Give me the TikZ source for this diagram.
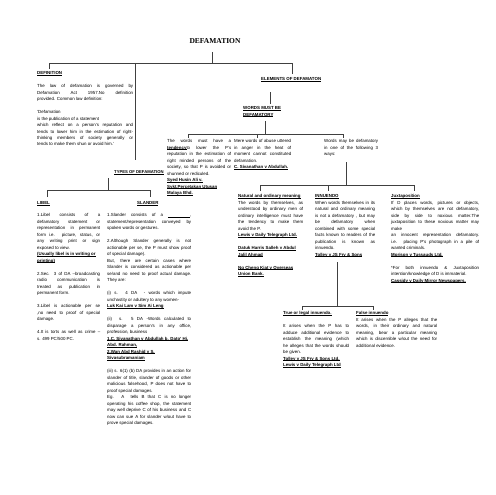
\documentclass[tikz,border=0pt]{standalone}
\usepackage{fontspec}
\setmainfont{Liberation Sans}
\newfontfamily\titlefont{Liberation Serif}
\newcommand\Jl[1]{\hbox to\hsize{\vrule height3.4pt depth0pt width0pt #1}}
\newcommand\Pl[1]{\hbox{\vrule height3.4pt depth0pt width0pt #1}}
\newcommand\Bl{\vskip6.5pt}
\newcommand\UL[1]{\setbox0\hbox{#1}\rlap{\rule[-0.8pt]{\wd0}{0.35pt}}\box0}
\newcommand\BU[1]{\UL{\textbf{#1}}}
\newcommand\blk[2]{\vtop{\hsize=#1\relax\fontsize{4.4}{6.5}\selectfont #2}}
\tikzset{
  tb/.style={anchor=north west, inner sep=0pt},
  hd/.style={anchor=base west, inner sep=0pt, font=\fontsize{4.4}{6.5}\selectfont},
  conn/.style={draw=black!75, line width=0.6pt}
}
\begin{document}
\begin{tikzpicture}[x=1pt,y=-1pt]
\fill[white] (0,0) rectangle (495,495);
\useasboundingbox (0,0) rectangle (495,495);

\node[anchor=base, inner sep=0pt, font=\titlefont\bfseries\fontsize{7.5}{9}\selectfont] (title) at (215,43.5) {DEFAMATION};

\node[hd] (defh) at (37,74.5) {\BU{DEFINITION}};
\node[tb] (deft) at (37,83.9) {\blk{96pt}{%
\Jl{The law of defamation is governed by}
\Jl{Defamation Act 1957.No definition}
\Pl{provided. Common law definition:}
\Bl
\Pl{`Defamation}
\Pl{is the publication of a statement}
\Jl{which reflect on a person's reputation and}
\Jl{tends to lower him in the estimation of right-}
\Jl{thinking members of society generally or}
\Pl{tends to make them shun or avoid him.'}}};

\node[hd] (elh) at (261,80.5) {\BU{ELEMENTS OF DEFAMATON}};
\node[tb] (wmh) at (243,105.9) {\blk{50pt}{%
\Pl{\BU{WORDS MUST BE}}
\Pl{\BU{DEFAMATORY}}}};

\node[tb] (blA) at (167,138.9) {\blk{64pt}{%
\Jl{The words must have a}
\Jl{\BU{tendency} to lower the P's}
\Jl{reputation in the estimation of}
\Jl{right minded persons of the}
\Jl{society, so that P is avoided or}
\Pl{shunned or rediculed.}
\Pl{\BU{Syed Husin Ali v.}}
\Pl{\BU{Sykt.Percetakan Utusan}}
\Pl{\BU{Malaya Bhd.}}}};

\node[tb] (blB) at (234,138.9) {\blk{57pt}{%
\Jl{Mere words of abuse uttered}
\Jl{in anger in the heat of}
\Jl{moment cannot constituted}
\Pl{defamation.}
\Pl{\BU{C. Sivanathan v Abdullah.}}}};

\node[tb] (blC) at (324,138.9) {\blk{54pt}{%
\Jl{Words may be defamatory}
\Jl{in one of the following 3}
\Pl{ways:}}};

\node[hd, font=\fontsize{4.2}{6.5}\selectfont] (tyh) at (114,173.5) {\BU{TYPES OF DEFAMATION}};
\node[hd] (lbh) at (37,204.5) {\BU{LIBEL}};
\node[hd] (slh) at (137,204.5) {\BU{SLANDER}};

\node[tb] (lbt) at (37,212.9) {\blk{63pt}{%
\Jl{1.Libel consists of a}
\Jl{defamatory statement or}
\Jl{representation in permanent}
\Jl{form i.e. picture, status, or}
\Jl{any writing print or sign}
\Pl{exposed to view.}
\Pl{\BU{(Usually libel is in writing or}}
\Pl{\BU{printing)}}
\Bl
\Jl{2.Sec. 3 of DA --broadcasting}
\Jl{radio communication is}
\Jl{treated as publication in}
\Pl{permanent form.}
\Bl
\Jl{3.Libel is actionable per se}
\Jl{,no need to proof of special}
\Pl{damage.}
\Bl
\Jl{4.It is torts as well as crime --}
\Pl{s. 499 PC/500 PC.}}};

\node[tb] (slt) at (107,212.9) {\blk{84pt}{%
\Jl{1.Slander consists of a \UL{\phantom{defamatory}},}
\Jl{statement/representation conveyed by}
\Pl{spoken words or gestures.}
\Bl
\Jl{2.Although Slander generally is not}
\Jl{actionable per se, the P must show proof}
\Pl{of special damage).}
\Jl{But, there are certain cases where}
\Jl{Slander is considered as actionable per}
\Jl{se/and no need to proof actual damage.}
\Pl{They are:}
\Bl
\Jl{(i) s. 4 DA \ - words which impute}
\Pl{unchastity or adultery to any women-}
\Pl{\BU{Luk Kai Lam v Sim Ai Leng}}
\Bl
\Jl{(ii) \ s. 5 DA -Words calculated to}
\Jl{disparage a person's in any office,}
\Pl{profession, business}
\Pl{\BU{1.C. Sivanathan v Abdullah b. Dato' Hj.}}
\Pl{\BU{Abd. Rahman,}}
\Pl{\BU{2.Wan Abd Rashid v S.}}
\Pl{\BU{Sivasubramaniam}}
\Bl
\Jl{(iii) s. 6(1) (b) DA provides in an action for}
\Jl{slander of title, slander of goods or other}
\Jl{malicious falsehood, P does not have to}
\Pl{proof special damages.}
\Jl{Eg. A \ tells B that C is no longer}
\Jl{operating his coffee shop, the statement}
\Jl{may well deprive C of his business and C}
\Jl{now can sue A for slander w/out have to}
\Pl{prove special damages.}}};

\node[tb] (nat) at (238,193.9) {\blk{65pt}{%
\Pl{\BU{Natural and ordinary meaning}}
\Jl{The words by themselves, as}
\Jl{understood by ordinary men of}
\Jl{ordinary intelligence must have}
\Jl{the tendency to make them}
\Pl{avoid the P.}
\Pl{\BU{Lewis v Daily Telegraph Ltd.}}
\Bl
\Pl{\BU{Datuk Harris Salleh v Abdul}}
\Pl{\BU{Jalil Ahmad}}
\Bl
\Pl{\BU{Ng Cheng Kiat v Overseas}}
\Pl{\BU{Union Bank.}}}};

\node[tb] (inn) at (315,193.9) {\blk{60pt}{%
\Pl{\BU{INNUENDO}}
\Jl{When words themselves in its}
\Jl{natural and ordinary meaning}
\Jl{is not a defamatory , but may}
\Jl{be defamatory when}
\Jl{combined with some special}
\Jl{facts known to readers of the}
\Jl{publication is known as}
\Pl{innuendo.}
\Pl{\BU{Tolley v JS Fry \& Sons}}}};

\node[tb] (jux) at (391,193.9) {\blk{88pt}{%
\Pl{\BU{Juxtaposition}}
\Jl{If D places words, pictures or objects,}
\Jl{which by themselves are not defamatory,}
\Jl{side by side to noxious matter.The}
\Jl{juxtaposition to these noxious matter may}
\Pl{make}
\Jl{an innocent representation defamatory.}
\Jl{i.e. placing P's photograph in a pile of}
\Pl{wanted criminals.}
\Pl{\BU{Morison v Tussauds Ltd.}}
\Bl
\Jl{*For both innuendo \& Juxtaposition}
\Pl{intention/knowledge of D is immaterial.}
\Pl{\BU{Cassidy v Daily Mirror Newspapers.}}}};

\node[tb] (tru) at (283,310.9) {\blk{66pt}{%
\Pl{\BU{True or legal innuendo.}}
\Bl
\Jl{It arises when the P has to}
\Jl{adduce additional evidence to}
\Jl{establish the meaning (which}
\Jl{he alleges that the words should}
\Pl{be given.}
\Pl{\BU{Tolley v JS Fry \& Sons Ltd.}}
\Pl{\BU{Lewis v Daily Telegraph Ltd}}}};

\node[tb] (fal) at (356,310.9) {\blk{81pt}{%
\Pl{\BU{False innuendo}}
\Jl{It arises when the P alleges that the}
\Jl{words, in their ordinary and natural}
\Jl{meaning, bear a particular meaning}
\Jl{which is discernible w/out the need for}
\Pl{additional evidence.}}};

% connectors
\coordinate (tA) at (212,52); \coordinate (tB) at (212,63);
\coordinate (hL) at (49,63); \coordinate (hR) at (292,63);
\coordinate (dDef) at (49,69); \coordinate (dEl) at (292,74);
\coordinate (hTy) at (135,63); \coordinate (dTy) at (135,160);
\draw[conn] (tA) -- (tB);
\draw[conn] (dDef) -- (hL) -- (hR) -- (dEl);
\draw[conn] (hTy) -- (dTy);

\coordinate (eA) at (270,92); \coordinate (eB) at (270,104);
\draw[conn] (eA) -- (eB);

\coordinate (wA) at (265,121); \coordinate (wB) at (265,134);
\coordinate (w1) at (188,138); \coordinate (w1h) at (188,134);
\coordinate (w3h) at (343,134); \coordinate (w3) at (343,138);
\coordinate (w2h) at (257,134); \coordinate (w2) at (257,138);
\draw[conn] (wA) -- (wB);
\draw[conn] (w1) -- (w1h) -- (w3h) -- (w3);
\draw[conn] (w2h) -- (w2);

\coordinate (yA) at (108,178); \coordinate (yB) at (108,190);
\coordinate (yLh) at (47,190); \coordinate (yL) at (47,197);
\coordinate (ySh) at (150,190); \coordinate (yS) at (150,197);
\draw[conn] (yA) -- (yB);
\draw[conn] (yL) -- (yLh) -- (ySh) -- (yS);

\coordinate (cA) at (346,162); \coordinate (cB) at (346,185);
\coordinate (n1h) at (260,185); \coordinate (n1) at (260,191);
\coordinate (n2h) at (328,185); \coordinate (n2) at (328,191);
\coordinate (n3h) at (414,185); \coordinate (n3) at (414,191);
\draw[conn] (cA) -- (cB);
\draw[conn] (n1) -- (n1h) -- (n3h) -- (n3);
\draw[conn] (n2h) -- (n2);

\coordinate (iA) at (337,262); \coordinate (iB) at (337,306);
\coordinate (t1h) at (302,306); \coordinate (t1) at (302,310);
\coordinate (t2h) at (373,306); \coordinate (t2) at (373,310);
\draw[conn] (iA) -- (iB);
\draw[conn] (t1) -- (t1h) -- (t2h) -- (t2);
\end{tikzpicture}
\end{document}
